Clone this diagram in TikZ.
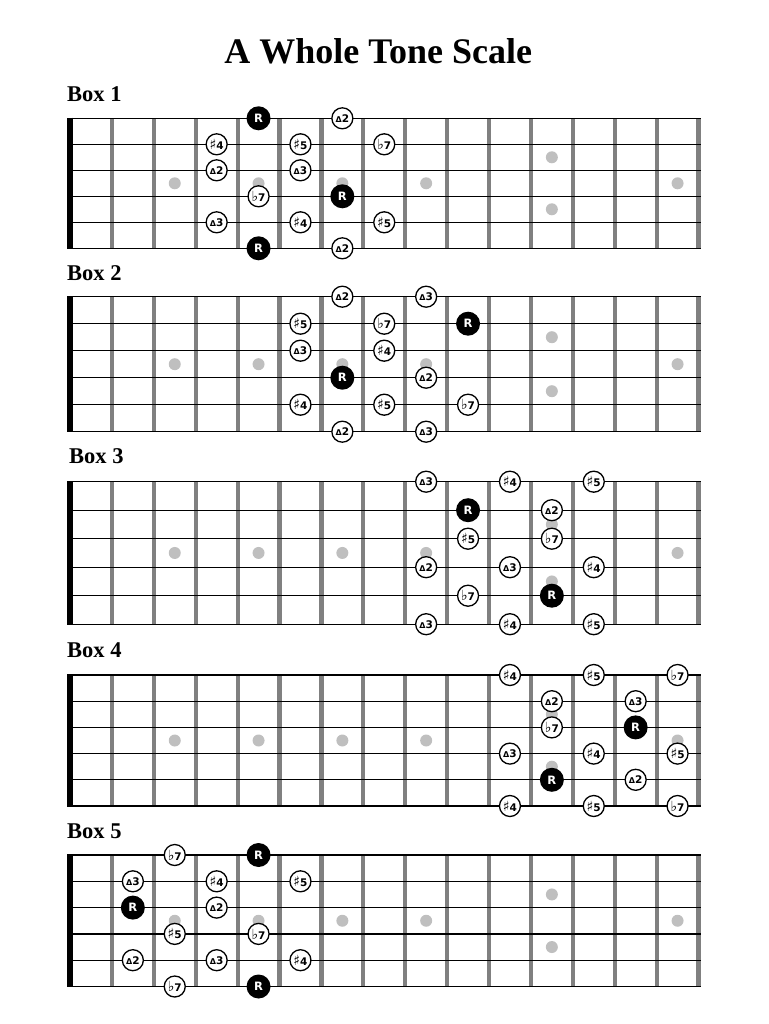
\documentclass[tikz,border=0pt]{standalone}
\usepackage{fontspec}
\setmainfont{Liberation Serif}
\newfontfamily\notefont{DejaVu Sans}
\usetikzlibrary{calc}

\tikzset{
  titre/.style={anchor=base,font=\bfseries\fontsize{36}{40}\selectfont},
  boite/.style={anchor=base west,inner sep=0pt,font=\bfseries\fontsize{22.5}{26}\selectfont},
  corde/.style={line width=1.3pt,black},
  frette/.style={line width=4.2pt,black!50},
  sillet/.style={line width=5.6pt,black},
  repere/.style={circle,fill=black!25,minimum size=12pt,inner sep=0pt},
  note/.style={circle,draw,line width=1.3pt,fill=white,minimum size=21pt,inner sep=0pt,
    font=\notefont\bfseries\fontsize{10.5}{10.5}\selectfont},
  fond/.style={circle,fill=black,minimum size=24pt,inner sep=0pt,text=white,
    font=\notefont\bfseries\fontsize{11.5}{11.5}\selectfont}
}

% petit triangle (majeur), diese et bemol agrandis
\newcommand{\tri}{{\fontsize{8}{8}\selectfont Δ}}
\newcommand{\dz}{{\fontsize{14}{14}\selectfont ♯}}
\newcommand{\bm}{{\fontsize{14}{14}\selectfont ♭}}

% manche : #1 nom, #2 haut, #3 ecart entre cordes
\newcommand{\manche}[3]{%
  \foreach \f in {1,...,15}
    \draw[frette] ({70+41.9*\f},{#2}) -- ({70+41.9*\f},{#2+5*#3});
  \foreach \rg in {0,...,5}
    \draw[corde] (67,{#2+\rg*#3}) -- (700.5,{#2+\rg*#3});
  \draw[sillet] (69.8,{#2-0.6}) -- (69.8,{#2+5*#3+0.6});
  \foreach \p in {3,5,7,9,15}
    \node[repere] (#1-d\p) at ({70+41.9*(\p-0.5)},{#2+2.5*#3}) {};
  \node[repere] (#1-d12a) at ({70+41.9*11.5},{#2+1.5*#3}) {};
  \node[repere] (#1-d12b) at ({70+41.9*11.5},{#2+3.5*#3}) {};
}

% notes : #1 nom, #2 haut, #3 ecart, #4 corde/case/texte
\newcommand{\degres}[4]{%
  \foreach \rg/\cs/\lab in {#4}
    \node[note] (#1-\rg-\cs) at ({70+41.9*(\cs-0.5)},{#2+#3*(\rg-1)}) {\lab};
}
% fondamentales : #1 nom, #2 haut, #3 ecart, #4 corde/case
\newcommand{\fondas}[4]{%
  \foreach \rg/\cs in {#4}
    \node[fond] (#1-\rg-\cs) at ({70+41.9*(\cs-0.5)},{#2+#3*(\rg-1)}) {R};
}

\begin{document}
\begin{tikzpicture}[x=1pt,y=-1pt]
\useasboundingbox (0,0) rectangle (768,1024);

\node[titre] (titre) at (378.3,63.3) {A Whole Tone Scale};

% Box 1
\node[boite] (lb1) at (67,101.7) {Box 1};
\manche{b1}{118.3}{26}
\degres{b1}{118.3}{26}{1/7/\tri2,2/4/\dz4,2/6/\dz5,2/8/\bm7,3/4/\tri2,3/6/\tri3,
  4/5/\bm7,5/4/\tri3,5/6/\dz4,5/8/\dz5,6/7/\tri2}
\fondas{b1}{118.3}{26}{1/5,4/7,6/5}

% Box 2
\node[boite] (lb2) at (67,280.2) {Box 2};
\manche{b2}{296.7}{27}
\degres{b2}{296.7}{27}{1/7/\tri2,1/9/\tri3,2/6/\dz5,2/8/\bm7,3/6/\tri3,3/8/\dz4,
  4/9/\tri2,5/6/\dz4,5/8/\dz5,5/10/\bm7,6/7/\tri2,6/9/\tri3}
\fondas{b2}{296.7}{27}{2/10,4/7}

% Box 3
\node[boite] (lb3) at (69,463) {Box 3};
\manche{b3}{481.7}{28.5}
\degres{b3}{481.7}{28.5}{1/9/\tri3,1/11/\dz4,1/13/\dz5,2/12/\tri2,3/10/\dz5,3/12/\bm7,
  4/9/\tri2,4/11/\tri3,4/13/\dz4,5/10/\bm7,6/9/\tri3,6/11/\dz4,6/13/\dz5}
\fondas{b3}{481.7}{28.5}{2/10,5/12}

% Box 4
\node[boite] (lb4) at (67,657.3) {Box 4};
\manche{b4}{675}{26.2}
\degres{b4}{675}{26.2}{1/11/\dz4,1/13/\dz5,1/15/\bm7,2/12/\tri2,2/14/\tri3,3/12/\bm7,
  4/11/\tri3,4/13/\dz4,4/15/\dz5,5/14/\tri2,6/11/\dz4,6/13/\dz5,6/15/\bm7}
\fondas{b4}{675}{26.2}{3/14,5/12}

% Box 5
\node[boite] (lb5) at (67,838.3) {Box 5};
\manche{b5}{855}{26.3}
\degres{b5}{855}{26.3}{1/3/\bm7,2/2/\tri3,2/4/\dz4,2/6/\dz5,3/4/\tri2,4/3/\dz5,4/5/\bm7,
  5/2/\tri2,5/4/\tri3,5/6/\dz4,6/3/\bm7}
\fondas{b5}{855}{26.3}{1/5,3/2,6/5}
\end{tikzpicture}
\end{document}
